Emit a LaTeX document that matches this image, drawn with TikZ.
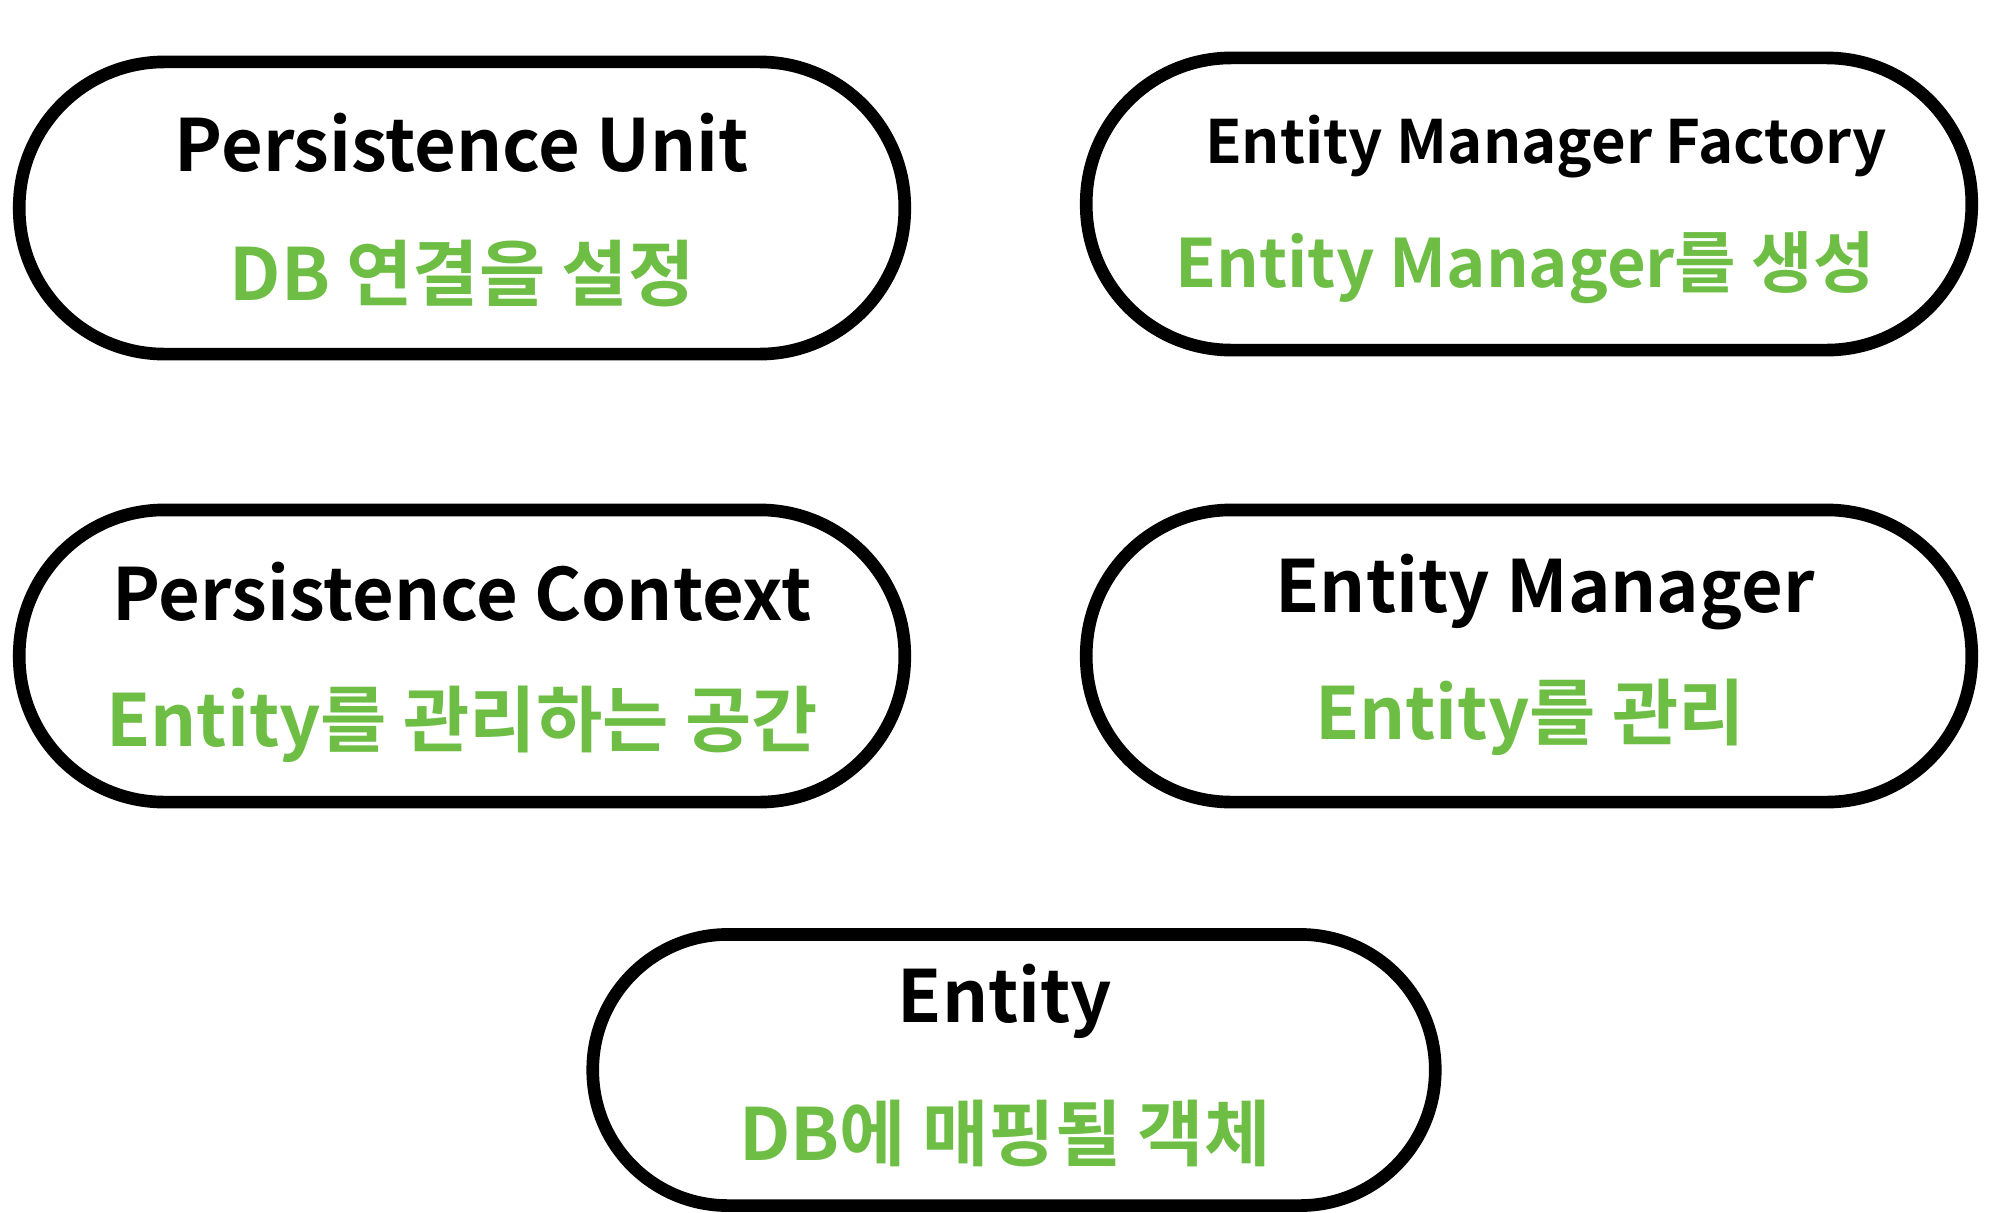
\documentclass[tikz,border=0pt]{standalone}
\usepackage{fontspec}
\newfontfamily\kr{Noto Sans CJK KR Bold}
\definecolor{grn}{RGB}{110,190,70}
\begin{document}
\begin{tikzpicture}[x=0.01cm,y=-0.01cm,
  pill/.style={draw=black,line width=3.6pt,rounded corners=1.45cm,minimum width=8.85cm,minimum height=2.92cm},
  ttl/.style={font=\kr\fontsize{20.5}{24}\selectfont,text=black},
  sub/.style={font=\kr\fontsize{20.5}{24}\selectfont,text=grn}]
\useasboundingbox (0,0) rectangle (2000,1212);
\fill[white] (0,0) rectangle (2000,1212);
\node[pill] (b1) at (462,208) {};
\node[ttl] (t1) at (462,143) {Persistence Unit};
\node[sub] (s1) at (462,274) {DB 연결을 설정};
\node[pill] (b2) at (1529,204) {};
\node[ttl,font=\kr\fontsize{17}{20}\selectfont] (t2) at (1546,147) {Entity Manager Factory};
\node[sub,font=\kr\fontsize{19}{22}\selectfont] (s2) at (1525,268) {Entity Manager를 생성};
\node[pill] (b3) at (462,656) {};
\node[ttl] (t3) at (462,592) {Persistence Context};
\node[sub] (s3) at (462,724) {Entity를 관리하는 공간};
\node[pill] (b4) at (1529,656) {};
\node[ttl] (t4) at (1545,592) {Entity Manager};
\node[sub] (s4) at (1530,717) {Entity를 관리};
\node[pill,minimum width=8.42cm,minimum height=2.71cm,rounded corners=1.35cm] (b5) at (1014,1070) {};
\node[ttl] (t5) at (1005,1001) {Entity};
\node[sub] (s5) at (1005,1133) {DB에 매핑될 객체};
\end{tikzpicture}
\end{document}
